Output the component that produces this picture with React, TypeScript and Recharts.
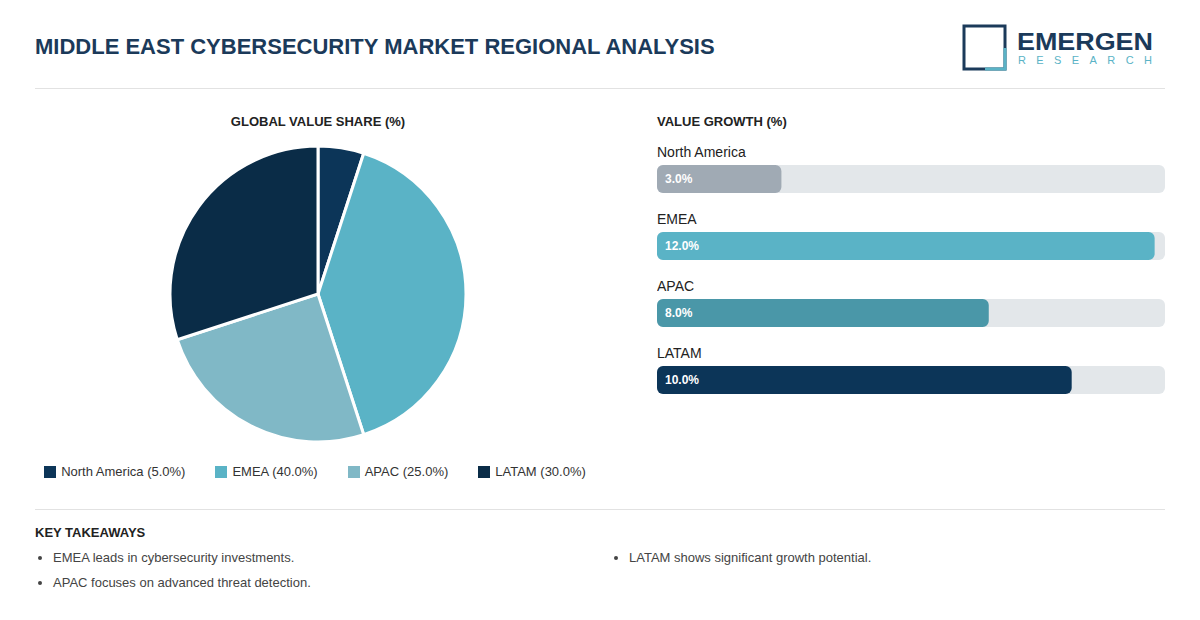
import React from "react";
import { PieChart, Pie, Cell, Legend, BarChart, Bar, XAxis, YAxis, LabelList } from "recharts";

const regions = ["North America", "EMEA", "APAC", "LATAM"];
const shareValues = [5.0, 40.0, 25.0, 30.0];
const growthValues = [3.0, 12.0, 8.0, 10.0];
const pieColors = ["#0c3558", "#5ab3c6", "#80b8c6", "#0a2c47"];
const barColors = ["#a0aab4", "#5ab3c6", "#4a97a8", "#0c3558"];
const takeawaysLeft = ["EMEA leads in cybersecurity investments.", "APAC focuses on advanced threat detection."];
const takeawaysRight = ["LATAM shows significant growth potential."];

const shareData = regions.map((name, i) => ({ name, value: shareValues[i], color: pieColors[i] }));
const growthData = regions.map((name, i) => ({ name, value: growthValues[i], color: barColors[i] }));

const FONT = '"Liberation Sans", Arial, Helvetica, sans-serif';

function ShareLegend() {
  return (
    <div style={{ display: "flex", justifyContent: "center", gap: 30, fontSize: 13, color: "#333" }}>
      {shareData.map((d) => (
        <div key={d.name} style={{ display: "flex", alignItems: "center" }}>
          <span style={{ width: 12, height: 12, background: d.color, marginRight: 5, display: "inline-block" }} />
          {`${d.name} (${d.value.toFixed(1)}%)`}
        </div>
      ))}
    </div>
  );
}

function CategoryLabel(props: any) {
  const { x, y, value } = props;
  return (
    <text x={x} y={y - 8} fontSize={14} fill="#222" fontFamily={FONT}>
      {value}
    </text>
  );
}

function ValueLabel(props: any) {
  const { x, y, height, value } = props;
  return (
    <text x={x + 8} y={y + height / 2 + 4} fontSize={12} fontWeight="bold" fill="#fff" fontFamily={FONT}>
      {`${Number(value).toFixed(1)}%`}
    </text>
  );
}

function Logo() {
  return (
    <svg width={200} height={50} style={{ position: "absolute", left: 961, top: 24 }}>
      <rect x={3} y={2} width={41} height={43} fill="none" stroke="#1b3a5a" strokeWidth={3} />
      <path d="M24 45 L44 45 L44 24" fill="none" stroke="#5ab3c6" strokeWidth={3} />
      <text x={56} y={26} fontSize={24} fontWeight="bold" fill="#1b3a5a" fontFamily={FONT} textLength={136} lengthAdjust="spacingAndGlyphs">
        EMERGEN
      </text>
      <text x={57} y={40} fontSize={11} fill="#5ab3c6" fontFamily={FONT} textLength={134} lengthAdjust="spacing">
        RESEARCH
      </text>
    </svg>
  );
}

export default function App() {
  return (
    <div
      style={{
        position: "absolute",
        left: 0,
        top: 0,
        width: 1200,
        height: 620,
        background: "#fff",
        fontFamily: FONT,
        color: "#222",
      }}
    >
      <div style={{ position: "absolute", left: 35, top: 34, fontSize: 22, fontWeight: "bold", color: "#1b3a5a" }}>
        MIDDLE EAST CYBERSECURITY MARKET REGIONAL ANALYSIS
      </div>
      <Logo />
      <div style={{ position: "absolute", left: 35, top: 88, width: 1130, height: 1, background: "#e2e2e2" }} />

      <div style={{ position: "absolute", left: 28, top: 114, width: 580, textAlign: "center", fontSize: 13, fontWeight: "bold" }}>
        GLOBAL VALUE SHARE (%)
      </div>
      <div style={{ position: "absolute", left: 28, top: 140 }}>
        <PieChart width={580} height={345} margin={{ top: 0, right: 0, bottom: 0, left: 0 }}>
          <Pie
            data={shareData}
            dataKey="value"
            nameKey="name"
            cx={290}
            cy={154}
            outerRadius={148}
            startAngle={90}
            endAngle={-270}
            stroke="#fff"
            strokeWidth={3}
            isAnimationActive={false}
          >
            {shareData.map((d, i) => (
              <Cell key={`slice-${i}`} fill={d.color} />
            ))}
          </Pie>
          <Legend
            content={() => <ShareLegend />}
            wrapperStyle={{ position: "absolute", left: -3, top: 324, width: 580 }}
          />
        </PieChart>
      </div>

      <div style={{ position: "absolute", left: 657, top: 114, fontSize: 13, fontWeight: "bold" }}>VALUE GROWTH (%)</div>
      <div style={{ position: "absolute", left: 657, top: 145 }}>
        <BarChart
          width={508}
          height={268}
          data={growthData}
          layout="vertical"
          margin={{ top: 0, right: 0, bottom: 0, left: 0 }}
        >
          <XAxis type="number" domain={[0, 12.25]} hide />
          <YAxis type="category" dataKey="name" hide />
          <Bar
            dataKey="value"
            barSize={28}
            radius={6}
            background={{ fill: "#e3e7ea", radius: 6 }}
            isAnimationActive={false}
          >
            {growthData.map((d, i) => (
              <Cell key={`bar-${i}`} fill={d.color} />
            ))}
            <LabelList dataKey="name" content={<CategoryLabel />} />
            <LabelList dataKey="value" content={<ValueLabel />} />
          </Bar>
        </BarChart>
      </div>

      <div style={{ position: "absolute", left: 35, top: 509, width: 1130, height: 1, background: "#e2e2e2" }} />
      <div style={{ position: "absolute", left: 35, top: 525, fontSize: 13, fontWeight: "bold" }}>KEY TAKEAWAYS</div>
      <ul style={{ position: "absolute", left: 35, top: 545, margin: 0, paddingLeft: 18, fontSize: 13, color: "#444", lineHeight: "25px" }}>
        {takeawaysLeft.map((t) => (
          <li key={t}>{t}</li>
        ))}
      </ul>
      <ul style={{ position: "absolute", left: 611, top: 545, margin: 0, paddingLeft: 18, fontSize: 13, color: "#444", lineHeight: "25px" }}>
        {takeawaysRight.map((t) => (
          <li key={t}>{t}</li>
        ))}
      </ul>
    </div>
  );
}
